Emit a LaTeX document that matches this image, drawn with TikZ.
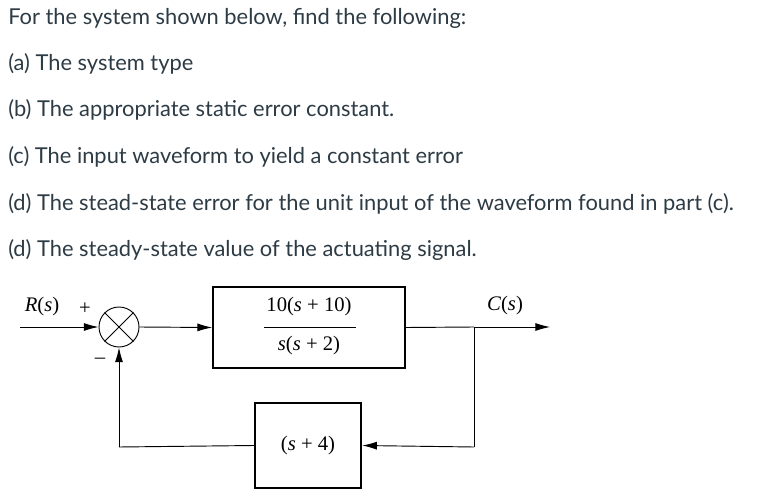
\documentclass[tikz,border=0pt]{standalone}
\usepackage{fontspec}
\setmainfont{Lato}
\newfontfamily\tm{Liberation Serif}
\usetikzlibrary{arrows.meta}
\definecolor{txt}{HTML}{2D3B45}
\tikzset{
 q/.style={anchor=base west,text=txt,font=\fontsize{16.4}{19}\selectfont,inner sep=0},
 blk/.style={draw,line width=1.3pt,inner sep=0},
 lbl/.style={font=\tm\fontsize{15.5}{18}\selectfont,inner sep=0},
 ar/.style={-{Latex[length=11pt,width=6pt]},line width=0.7pt},
 ln/.style={line width=0.7pt}
}
\begin{document}
\begin{tikzpicture}[x=0.75pt,y=-0.75pt]
\useasboundingbox (0,0) rectangle (784,502);
\node[q] (t0) at (8,25) {For the system shown below, find the following:};
\node[q] (t1) at (8,71) {(a) The system type};
\node[q] (t2) at (8,117) {(b) The appropriate static error constant.};
\node[q] (t3) at (8,164) {(c) The input waveform to yield a constant error};
\node[q] (t4) at (8,210) {(d) The stead-state error for the unit input of the waveform found in part (c).};
\node[q] (t5) at (8,256) {(d) The steady-state value of the actuating signal.};
% diagram
\coordinate (in) at (20,327);
\node[draw,circle,minimum size=30pt,line width=0.7pt,inner sep=0] (sum) at (119,327) {};
\draw[ln] (sum.north west)--(sum.south east) (sum.north east)--(sum.south west);
\node[blk,minimum width=144pt,minimum height=61pt] (G) at (309,327.5) {};
\node[lbl] (num) at (309,307) {10(\textit{s} + 10)};
\node[lbl] (den) at (309,346) {\textit{s}(\textit{s} + 2)};
\draw[line width=0.7pt] (264,327) -- (356,327);
\node[blk,minimum width=80pt,minimum height=64pt] (H) at (308,445.5) {};
\node[lbl] (hl) at (308,446) {(\textit{s} + 4)};
\coordinate (br) at (474,327);
\coordinate (out) at (550,327);
\coordinate (fbr) at (474,447);
\coordinate (fbl) at (119,447);
\draw[ar] (in) -- (sum.west);
\draw[ar] (sum.east) -- (G.west);
\draw[ln] (G.east) -- (br);
\draw[ar] (br) -- (out);
\draw[ln] (br) -- (fbr);
\draw[ar] (fbr) -- (H.east);
\draw[ln] (H.west) -- (fbl);
\draw[ar] (fbl) -- (sum.south);
\node[lbl] (R) at (42,307) {\textit{R}(\textit{s})};
\node[lbl] (pl) at (85,309) {+};
\node[lbl] (mi) at (100,361) {\textendash};
\node[lbl] (C) at (505,306) {\textit{C}(\textit{s})};
\end{tikzpicture}
\end{document}
